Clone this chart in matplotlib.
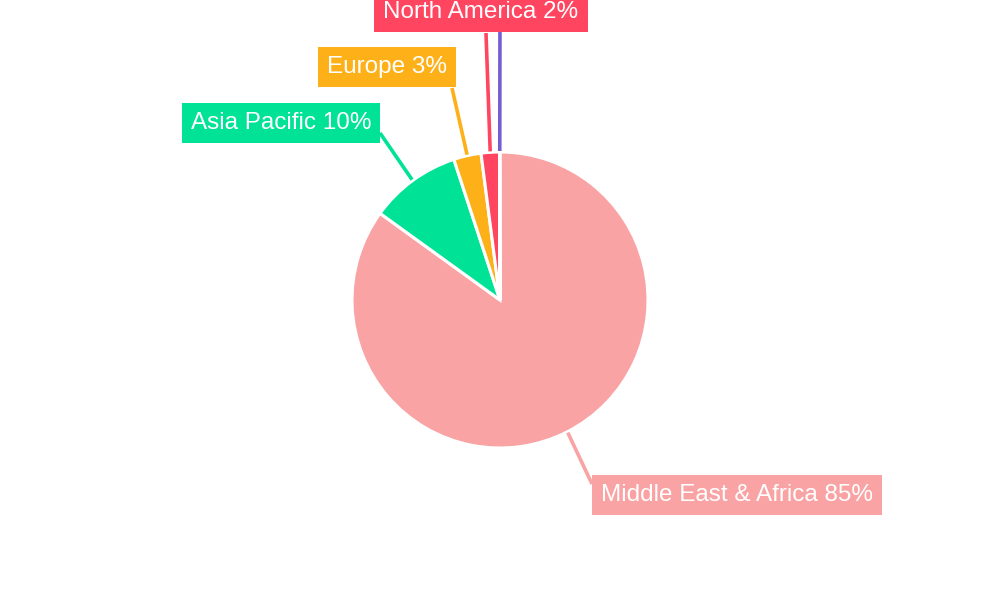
import numpy as np
import matplotlib
matplotlib.use("Agg")
import matplotlib.pyplot as plt

plt.rcParams['font.family'] = ['Liberation Sans', 'DejaVu Sans']

# Data
regions = ["Middle East & Africa", "Asia Pacific", "Europe", "North America", "Latin America"]
shares = [85, 10, 3, 2, 0.05]
colors = ["#F9A3A4", "#00E396", "#FEB019", "#FF4560", "#775DD0"]
show_label = [True, True, True, True, False]

# Layout (pixel positions, y measured downward from top)
W, H = 1000, 600
cx, cy, R = 500, 300, 148
label_text_pos = [(737, 495), (281, 123), (387, 67), (481, 12), None]
line_end = [(592, 484), (380, 133), (452, 88), (486, 33), (500, -5)]

fig = plt.figure(figsize=(10, 6), dpi=100)
ax = fig.add_axes([0, 0, 1, 1])

wedges, _ = ax.pie(shares, colors=colors, startangle=90, counterclock=False,
                   center=(cx, H - cy), radius=R,
                   wedgeprops=dict(edgecolor='white', linewidth=2.2))
ax.set_xlim(0, W)
ax.set_ylim(0, H)
ax.set_aspect('equal')
ax.axis('off')

total = sum(shares)
for w, name, val, col, show, tpos, lend in zip(wedges, regions, shares, colors,
                                                show_label, label_text_pos, line_end):
    mid = np.deg2rad((w.theta1 + w.theta2) / 2)
    sx = cx + (R + 1) * np.cos(mid)
    sy = (H - cy) + (R + 1) * np.sin(mid)
    ax.plot([sx, lend[0]], [sy, H - lend[1]], color=col, lw=2.6,
            solid_capstyle='butt', zorder=1, clip_on=False)
    if show:
        pct = val / total * 100
        ax.text(tpos[0], H - tpos[1], f"{name} {pct:.0f}%", color='white',
                fontsize=17.5, ha='center', va='center', zorder=3,
                bbox=dict(boxstyle='square,pad=0.37', facecolor=col, edgecolor='none'))

fig.savefig("out.png", dpi=100)
